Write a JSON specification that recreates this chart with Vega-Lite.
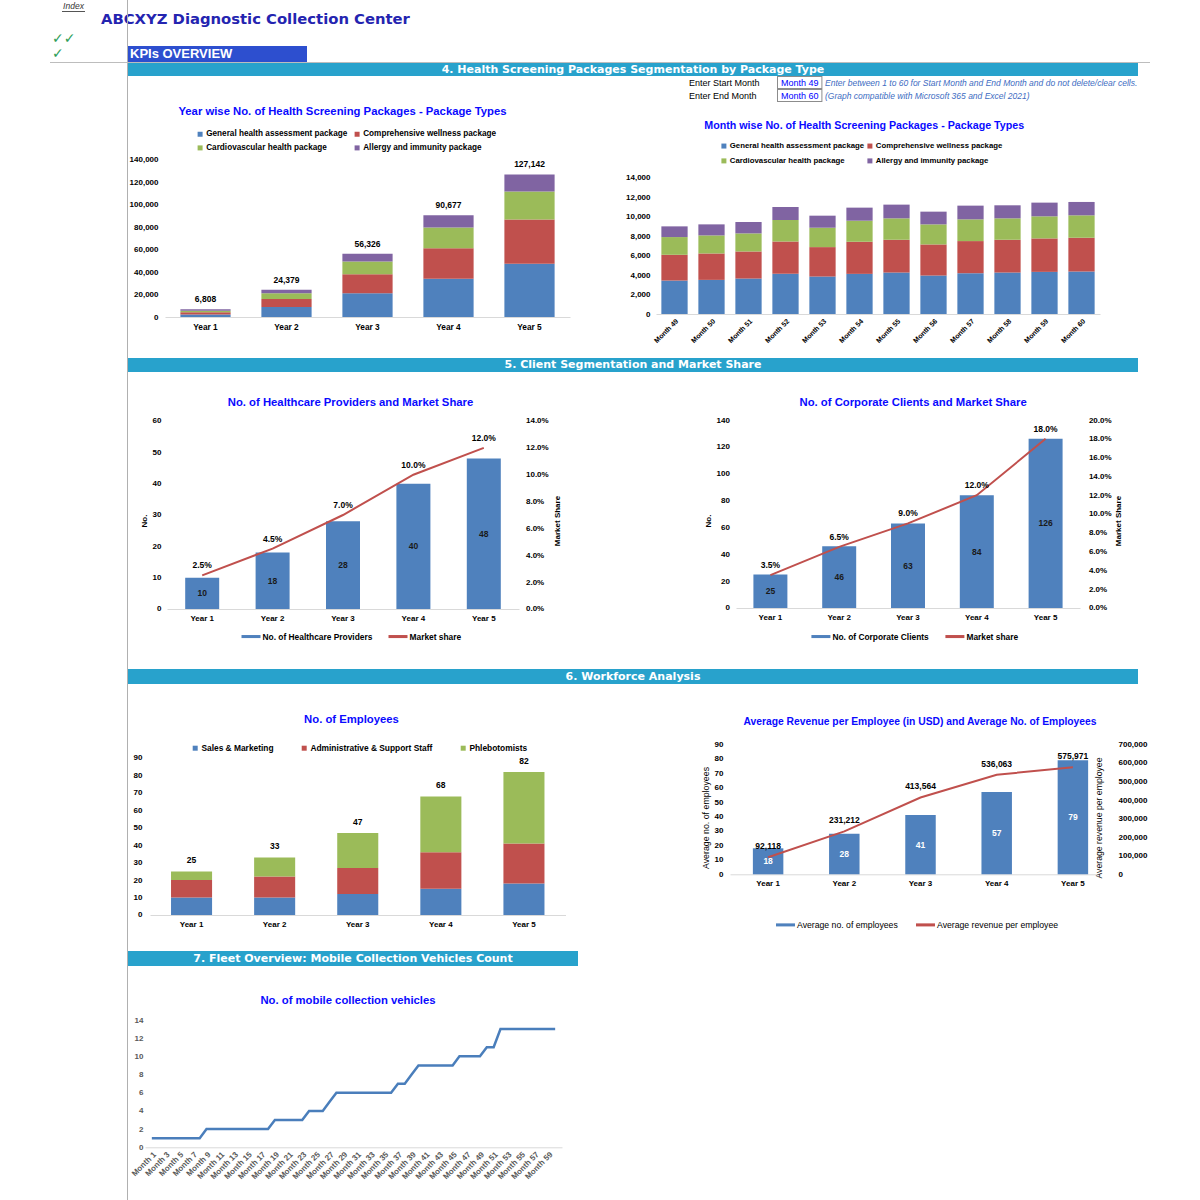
{
"$schema":"https://vega.github.io/schema/vega-lite/v6.json",
"padding":0,
"background":"white",
"config":{
 "font":"Liberation Sans",
 "view":{"stroke":null},
 "axis":{"grid":false,"ticks":false,"labelOverlap":false,"labelFontSize":8,"labelFontWeight":"bold","labelColor":"#000000","domainColor":"#d9d9d9","titleFontSize":8,"titleFontWeight":"bold","titleColor":"#000000","labelFont":"Liberation Sans","titleFont":"Liberation Sans"},
 "legend":{"labelFont":"Liberation Sans","labelFontWeight":"bold","labelFontSize":8.4,"labelColor":"#000000","labelLimit":400,"symbolType":"square","symbolSize":25,"symbolStrokeWidth":0,"labelOffset":2,"symbolOpacity":1}
},
"spacing":0,
"resolve":{"scale":{"color":"independent"},"legend":{"color":"independent"}},
"vconcat":[
 {"spacing":0,"bounds":"flush","hconcat":[
  {"width":61,"height":11,"data":{"values":[]},"mark":"point"},
  {"width":25,"height":11,"data":{"values":[{"t":"Index"}]},"mark":{"type":"text","fontSize":8.5,"fontStyle":"italic","color":"#333333"},"encoding":{"text":{"field":"t"}}},
  {"width":41,"height":11,"data":{"values":[]},"mark":"point"},
  {"width":1,"height":11,"view":{"fill":"#b0b0b0"},"data":{"values":[]},"mark":"point"}
 ]},
 {"spacing":0,"bounds":"flush","hconcat":[
  {"width":62,"height":1,"data":{"values":[]},"mark":"point"},
  {"width":23,"height":1,"view":{"fill":"#555555"},"data":{"values":[]},"mark":"point"},
  {"width":42,"height":1,"data":{"values":[]},"mark":"point"},
  {"width":1,"height":1,"view":{"fill":"#b0b0b0"},"data":{"values":[]},"mark":"point"}
 ]},
 {"spacing":0,"bounds":"flush","hconcat":[
  {"width":52,"height":34,"data":{"values":[]},"mark":"point"},
  {"width":49,"height":34,"data":{"values":[{"t":"✓✓"}]},"mark":{"type":"text","align":"left","dx":-24.5,"dy":10,"font":"DejaVu Sans","fontSize":14,"color":"#2f9e58"},"encoding":{"text":{"field":"t"}}},
  {"width":26,"height":34,"data":{"values":[{"t":"ABCXYZ Diagnostic Collection Center"}]},"mark":{"type":"text","align":"left","dx":-13,"dy":-9,"font":"DejaVu Sans","fontWeight":"bold","fontSize":14.8,"color":"#2424b0"},"encoding":{"text":{"field":"t"}}},
  {"width":1,"height":34,"view":{"fill":"#b0b0b0"},"data":{"values":[]},"mark":"point"}
 ]},
 {"spacing":0,"bounds":"flush","hconcat":[
  {"width":52,"height":16,"data":{"values":[]},"mark":"point"},
  {"width":49,"height":16,"data":{"values":[{"t":"✓"}]},"mark":{"type":"text","align":"left","dx":-24.5,"font":"DejaVu Sans","fontSize":14,"color":"#2f9e58"},"encoding":{"text":{"field":"t"}}},
  {"width":26,"height":16,"data":{"values":[]},"mark":"point"},
  {"width":1,"height":16,"view":{"fill":"#b0b0b0"},"data":{"values":[]},"mark":"point"},
  {"width":179,"height":16,"view":{"fill":"#2d4fcf"},"data":{"values":[{"t":"KPIs OVERVIEW"}]},"mark":{"type":"text","align":"left","dx":-87.5,"fontSize":13,"fontWeight":"bold","color":"#ffffff"},"encoding":{"text":{"field":"t"}}}
 ]},
 {"spacing":0,"bounds":"flush","hconcat":[
  {"width":50,"height":1,"data":{"values":[]},"mark":"point"},
  {"width":1100,"height":1,"view":{"fill":"#bdbdbd"},"data":{"values":[]},"mark":"point"}
 ]},
 {"spacing":0,"bounds":"flush","hconcat":[
  {"width":127,"height":13,"data":{"values":[]},"mark":"point"},
  {"width":1,"height":13,"view":{"fill":"#b0b0b0"},"data":{"values":[]},"mark":"point"},
  {"width":1010,"height":13,"view":{"fill":"#28a2cc"},"data":{"values":[{"t":"4. Health Screening Packages Segmentation by Package Type"}]},"mark":{"type":"text","font":"DejaVu Sans","fontWeight":"bold","fontSize":11,"color":"#ffffff"},"encoding":{"text":{"field":"t"}}}
 ]},
 {"spacing":0,"bounds":"flush","hconcat":[
  {"width":127,"height":13,"data":{"values":[]},"mark":"point"},
  {"width":1,"height":13,"view":{"fill":"#b0b0b0"},"data":{"values":[]},"mark":"point"},
  {"width":561,"height":13,"data":{"values":[]},"mark":"point"},
  {"width":88,"height":13,"data":{"values":[{"t":"Enter Start Month"}]},"mark":{"type":"text","align":"left","dx":-44,"fontSize":9,"color":"#000000"},"encoding":{"text":{"field":"t"}}},
  {"width":45.4,"height":13,"view":{"fill":"#8c8c8c"},"data":{"values":[{"t":"Month 49"}]},"layer":[
    {"mark":{"type":"rect","fill":"#ffffff","xOffset":1,"x2Offset":-1,"yOffset":1,"y2Offset":-1},"encoding":{"x":{"value":0},"x2":{"value":"width"},"y":{"value":0},"y2":{"value":"height"}}},
    {"mark":{"type":"text","fontSize":9,"color":"#0000ff"},"encoding":{"text":{"field":"t"}}}]},
  {"width":322,"height":13,"data":{"values":[{"t":"Enter between 1 to 60 for Start Month and End Month and do not delete/clear cells."}]},"mark":{"type":"text","align":"left","dx":-159,"fontSize":8.5,"fontStyle":"italic","color":"#3d6cc2"},"encoding":{"text":{"field":"t"}}}
 ]},
 {"spacing":0,"bounds":"flush","hconcat":[
  {"width":127,"height":13,"data":{"values":[]},"mark":"point"},
  {"width":1,"height":13,"view":{"fill":"#b0b0b0"},"data":{"values":[]},"mark":"point"},
  {"width":561,"height":13,"data":{"values":[]},"mark":"point"},
  {"width":88,"height":13,"data":{"values":[{"t":"Enter End Month"}]},"mark":{"type":"text","align":"left","dx":-44,"fontSize":9,"color":"#000000"},"encoding":{"text":{"field":"t"}}},
  {"width":45.4,"height":13,"view":{"fill":"#8c8c8c"},"data":{"values":[{"t":"Month 60"}]},"layer":[
    {"mark":{"type":"rect","fill":"#ffffff","xOffset":1,"x2Offset":-1,"yOffset":1,"y2Offset":-1},"encoding":{"x":{"value":0},"x2":{"value":"width"},"y":{"value":0},"y2":{"value":"height"}}},
    {"mark":{"type":"text","fontSize":9,"color":"#0000ff"},"encoding":{"text":{"field":"t"}}}]},
  {"width":322,"height":13,"data":{"values":[{"t":"(Graph compatible with Microsoft 365 and Excel 2021)"}]},"mark":{"type":"text","align":"left","dx":-159,"fontSize":8.5,"fontStyle":"italic","color":"#3d6cc2"},"encoding":{"text":{"field":"t"}}}
 ]},
 {"spacing":0,"bounds":"flush","resolve":{"scale":{"color":"independent"},"legend":{"color":"independent"}},"hconcat":[
  {"width":127,"height":256,"data":{"values":[]},"mark":"point"},
  {"width":1,"height":256,"view":{"fill":"#b0b0b0"},"data":{"values":[]},"mark":"point"},
  {"width":36.5,"height":256,"data":{"values":[]},"mark":"point"},
  {"width":405,"height":256,
   "layer":[
    {"data":{"values":[
      {"year":"Year 1","General health assessment package":2300,"Comprehensive wellness package":1900,"Cardiovascular health package":1300,"Allergy and immunity package":1308},
      {"year":"Year 2","General health assessment package":9000,"Comprehensive wellness package":7100,"Cardiovascular health package":5100,"Allergy and immunity package":3179},
      {"year":"Year 3","General health assessment package":21200,"Comprehensive wellness package":17000,"Cardiovascular health package":11350,"Allergy and immunity package":6776},
      {"year":"Year 4","General health assessment package":34000,"Comprehensive wellness package":27200,"Cardiovascular health package":18500,"Allergy and immunity package":10977},
      {"year":"Year 5","General health assessment package":47460,"Comprehensive wellness package":39410,"Cardiovascular health package":25070,"Allergy and immunity package":15202}
     ]},
     "transform":[{"fold":["General health assessment package","Comprehensive wellness package","Cardiovascular health package","Allergy and immunity package"],"as":["pkg","n"]}],
     "mark":{"type":"bar"},
     "encoding":{
      "x":{"field":"year","type":"nominal","title":null,"scale":{"paddingInner":0.38,"paddingOuter":0.19},"axis":{"labelAngle":0,"labelPadding":5,"labelFontSize":8.3,"offset":-41}},
      "y":{"field":"n","type":"quantitative","title":null,"stack":"zero","scale":{"domain":[-36560.5,191719.7],"nice":false,"zero":false},"axis":{"values":[0,20000,40000,60000,80000,100000,120000,140000],"format":",.0f","domain":false,"labelPadding":7,"labelOverlap":false}},
      "color":{"field":"pkg","type":"nominal","sort":["General health assessment package","Comprehensive wellness package","Cardiovascular health package","Allergy and immunity package"],"scale":{"range":["#4f81bd","#c0504d","#9bbb59","#8064a2"]},"legend":{"orient":"none","legendX":31,"legendY":27.8,"columns":2,"direction":"horizontal","title":null,"columnPadding":5,"rowPadding":5,"labelFontSize":8.2}},
      "order":{"field":"pkg","sort":"descending"}
     }},
    {"data":{"values":[{"year":"Year 1","total":6808},{"year":"Year 2","total":24379},{"year":"Year 3","total":56326},{"year":"Year 4","total":90677},{"year":"Year 5","total":127142}]},
     "mark":{"type":"text","dy":-10,"fontSize":8.5,"fontWeight":"bold","color":"#000000"},
     "encoding":{"x":{"field":"year","type":"nominal","title":null},"y":{"field":"total","type":"quantitative","title":null,"scale":{"domain":[-36560.5,191719.7],"nice":false,"zero":false},"axis":{"values":[0,20000,40000,60000,80000,100000,120000,140000],"format":",.0f","domain":false,"labelPadding":7,"labelOverlap":false}},"text":{"field":"total","type":"quantitative","format":",.0f"}}},
    {"data":{"values":[{"t":"Year wise No. of Health Screening Packages - Package Types"}]},
     "mark":{"type":"text","dx":-25,"dy":-118,"fontSize":11.3,"fontWeight":"bold","color":"#0a0aff"},"encoding":{"text":{"field":"t"}}}
   ]},
  {"width":86,"height":256,"data":{"values":[]},"mark":"point"},
  {"width":444,"height":256,
   "layer":[
    {"data":{"values":[
     {"m":"Month 49","General health assessment package":3443,"Comprehensive wellness package":2651,"Cardiovascular health package":1825,"Allergy and immunity package":1102},
     {"m":"Month 50","General health assessment package":3512,"Comprehensive wellness package":2720,"Cardiovascular health package":1859,"Allergy and immunity package":1136},
     {"m":"Month 51","General health assessment package":3650,"Comprehensive wellness package":2788,"Cardiovascular health package":1860,"Allergy and immunity package":1170},
     {"m":"Month 52","General health assessment package":4132,"Comprehensive wellness package":3339,"Cardiovascular health package":2204,"Allergy and immunity package":1343},
     {"m":"Month 53","General health assessment package":3856,"Comprehensive wellness package":3030,"Cardiovascular health package":1997,"Allergy and immunity package":1239},
     {"m":"Month 54","General health assessment package":4132,"Comprehensive wellness package":3305,"Cardiovascular health package":2169,"Allergy and immunity package":1343},
     {"m":"Month 55","General health assessment package":4269,"Comprehensive wellness package":3374,"Cardiovascular health package":2204,"Allergy and immunity package":1412},
     {"m":"Month 56","General health assessment package":3959,"Comprehensive wellness package":3202,"Cardiovascular health package":2066,"Allergy and immunity package":1309},
     {"m":"Month 57","General health assessment package":4200,"Comprehensive wellness package":3306,"Cardiovascular health package":2238,"Allergy and immunity package":1411},
     {"m":"Month 58","General health assessment package":4269,"Comprehensive wellness package":3374,"Cardiovascular health package":2204,"Allergy and immunity package":1343},
     {"m":"Month 59","General health assessment package":4338,"Comprehensive wellness package":3443,"Cardiovascular health package":2273,"Allergy and immunity package":1411},
     {"m":"Month 60","General health assessment package":4373,"Comprehensive wellness package":3477,"Cardiovascular health package":2307,"Allergy and immunity package":1377}
     ]},
     "transform":[{"fold":["General health assessment package","Comprehensive wellness package","Cardiovascular health package","Allergy and immunity package"],"as":["pkg","n"]}],
     "mark":{"type":"bar"},
     "encoding":{
      "x":{"field":"m","type":"nominal","title":null,"scale":{"paddingInner":0.29,"paddingOuter":0.145},"axis":{"labelAngle":-45,"labelPadding":3,"labelFontSize":7,"offset":-44}},
      "y":{"field":"n","type":"quantitative","title":null,"stack":"zero","scale":{"domain":[-4529.4,21823.5],"nice":false,"zero":false},"axis":{"values":[0,2000,4000,6000,8000,10000,12000,14000],"format":",.0f","domain":false,"labelPadding":6}},
      "color":{"field":"pkg","type":"nominal","sort":["General health assessment package","Comprehensive wellness package","Cardiovascular health package","Allergy and immunity package"],"scale":{"range":["#4f81bd","#c0504d","#9bbb59","#8064a2"]},"legend":{"orient":"none","legendX":64,"legendY":40,"columns":2,"direction":"horizontal","title":null,"columnPadding":1,"rowPadding":6,"labelFontSize":7.8}},
      "order":{"field":"pkg","sort":"descending"}
     }},
    {"data":{"values":[{"t":"Month wise No. of Health Screening Packages - Package Types"}]},
     "mark":{"type":"text","dx":-13.8,"dy":-104,"fontSize":10.7,"fontWeight":"bold","color":"#0a0aff"},"encoding":{"text":{"field":"t"}}}
   ]}
 ]},
 {"spacing":0,"bounds":"flush","hconcat":[
  {"width":127,"height":14,"data":{"values":[]},"mark":"point"},
  {"width":1,"height":14,"view":{"fill":"#b0b0b0"},"data":{"values":[]},"mark":"point"},
  {"width":1010,"height":14,"view":{"fill":"#28a2cc"},"data":{"values":[{"t":"5. Client Segmentation and Market Share"}]},"mark":{"type":"text","font":"DejaVu Sans","fontWeight":"bold","fontSize":11,"color":"#ffffff"},"encoding":{"text":{"field":"t"}}}
 ]},
 {"spacing":0,"bounds":"flush","resolve":{"scale":{"color":"independent"},"legend":{"color":"independent"}},"hconcat":[
  {"width":127,"height":297,"data":{"values":[]},"mark":"point"},
  {"width":1,"height":297,"view":{"fill":"#b0b0b0"},"data":{"values":[]},"mark":"point"},
  {"width":38.5,"height":297,"data":{"values":[]},"mark":"point"},
  {"width":352,"height":297,
   "data":{"values":[
    {"year":"Year 1","providers":10,"share":0.025},
    {"year":"Year 2","providers":18,"share":0.045},
    {"year":"Year 3","providers":28,"share":0.07},
    {"year":"Year 4","providers":40,"share":0.10},
    {"year":"Year 5","providers":48,"share":0.12}
   ]},
   "layer":[
    {"mark":{"type":"bar"},"encoding":{
      "x":{"field":"year","type":"nominal","title":null,"scale":{"paddingInner":0.517,"paddingOuter":0.2585},"axis":{"labelAngle":0,"labelPadding":5,"offset":-60}},
      "y":{"field":"providers","type":"quantitative","scale":{"domain":[-19.149,75.638],"nice":false,"zero":false},"axis":{"title":"No.","values":[0,10,20,30,40,50,60],"domain":false,"labelPadding":6,"titlePadding":4}},
      "color":{"datum":"No. of Healthcare Providers","type":"nominal","scale":{"domain":["No. of Healthcare Providers","Market share"],"range":["#4f81bd","#c0504d"]},"legend":{"orient":"none","legendX":74.5,"legendY":255,"direction":"horizontal","title":null,"symbolType":"M-1,-0.16H1V0.16H-1Z","symbolSize":361,"columnPadding":16}}}},
    {"mark":{"type":"text","fontSize":8.5,"fontWeight":"bold","color":"#1a1a1a"},"encoding":{
      "x":{"field":"year","type":"nominal"},
      "y":{"field":"providers","type":"quantitative","scale":{"domain":[-38.298,151.277],"nice":false,"zero":false},"axis":null},
      "text":{"field":"providers","type":"quantitative"}}},
    {"mark":{"type":"line","strokeWidth":2},"encoding":{
      "x":{"field":"year","type":"nominal"},
      "y":{"field":"share","type":"quantitative","scale":{"domain":[-0.044681,0.176489],"nice":false,"zero":false},"axis":{"orient":"right","title":"Market Share","format":".1%","values":[0,0.02,0.04,0.06,0.08,0.1,0.12,0.14],"domain":false,"labelPadding":6.5,"titlePadding":13,"titleAngle":270}},
      "color":{"datum":"Market share","type":"nominal"}}},
    {"mark":{"type":"text","dy":-10,"fontSize":8.5,"fontWeight":"bold","color":"#000000"},"encoding":{
      "x":{"field":"year","type":"nominal"},
      "y":{"field":"share","type":"quantitative","scale":{"domain":[-0.044681,0.176489],"nice":false,"zero":false},"axis":null},
      "text":{"field":"share","type":"quantitative","format":".1%"}}},
    {"data":{"values":[{"t":"No. of Healthcare Providers and Market Share"}]},
     "mark":{"type":"text","dx":7.5,"dy":-117.5,"fontSize":11.3,"fontWeight":"bold","color":"#0a0aff"},"encoding":{"text":{"field":"t"}}}
   ],
   "resolve":{"scale":{"y":"independent"}}},
  {"width":216.1,"height":297,"data":{"values":[]},"mark":"point"},
  {"width":344,"height":297,
   "data":{"values":[
    {"year":"Year 1","clients":25,"share":0.035},
    {"year":"Year 2","clients":46,"share":0.065},
    {"year":"Year 3","clients":63,"share":0.09},
    {"year":"Year 4","clients":84,"share":0.12},
    {"year":"Year 5","clients":126,"share":0.18}
   ]},
   "layer":[
    {"mark":{"type":"bar"},"encoding":{
      "x":{"field":"year","type":"nominal","title":null,"scale":{"paddingInner":0.506,"paddingOuter":0.253},"axis":{"labelAngle":0,"labelPadding":5,"offset":-61}},
      "y":{"field":"clients","type":"quantitative","scale":{"domain":[-45.426,175.745],"nice":false,"zero":false},"axis":{"title":"No.","values":[0,20,40,60,80,100,120,140],"domain":false,"labelPadding":6.6,"titlePadding":4}},
      "color":{"datum":"No. of Corporate Clients","type":"nominal","scale":{"domain":["No. of Corporate Clients","Market share"],"range":["#4f81bd","#c0504d"]},"legend":{"orient":"none","legendX":75.4,"legendY":255,"direction":"horizontal","title":null,"symbolType":"M-1,-0.16H1V0.16H-1Z","symbolSize":361,"columnPadding":16}}}},
    {"mark":{"type":"text","fontSize":8.5,"fontWeight":"bold","color":"#1a1a1a"},"encoding":{
      "x":{"field":"year","type":"nominal"},
      "y":{"field":"clients","type":"quantitative","scale":{"domain":[-90.851,351.489],"nice":false,"zero":false},"axis":null},
      "text":{"field":"clients","type":"quantitative"}}},
    {"mark":{"type":"line","strokeWidth":2},"encoding":{
      "x":{"field":"year","type":"nominal"},
      "y":{"field":"share","type":"quantitative","scale":{"domain":[-0.064894,0.251064],"nice":false,"zero":false},"axis":{"orient":"right","title":"Market Share","format":".1%","values":[0,0.02,0.04,0.06,0.08,0.1,0.12,0.14,0.16,0.18,0.2],"domain":false,"labelPadding":8.4,"titlePadding":11,"titleAngle":270}},
      "color":{"datum":"Market share","type":"nominal"}}},
    {"mark":{"type":"text","dy":-10,"fontSize":8.5,"fontWeight":"bold","color":"#000000"},"encoding":{
      "x":{"field":"year","type":"nominal"},
      "y":{"field":"share","type":"quantitative","scale":{"domain":[-0.064894,0.251064],"nice":false,"zero":false},"axis":null},
      "text":{"field":"share","type":"quantitative","format":".1%"}}},
    {"data":{"values":[{"t":"No. of Corporate Clients and Market Share"}]},
     "mark":{"type":"text","dx":5.1,"dy":-117.5,"fontSize":11.3,"fontWeight":"bold","color":"#0a0aff"},"encoding":{"text":{"field":"t"}}}
   ],
   "resolve":{"scale":{"y":"independent"}}}
 ]},
 {"spacing":0,"bounds":"flush","hconcat":[
  {"width":127,"height":15,"data":{"values":[]},"mark":"point"},
  {"width":1,"height":15,"view":{"fill":"#b0b0b0"},"data":{"values":[]},"mark":"point"},
  {"width":1010,"height":15,"view":{"fill":"#28a2cc"},"data":{"values":[{"t":"6. Workforce Analysis"}]},"mark":{"type":"text","font":"DejaVu Sans","fontWeight":"bold","fontSize":11,"color":"#ffffff"},"encoding":{"text":{"field":"t"}}}
 ]},
 {"spacing":0,"bounds":"flush","resolve":{"scale":{"color":"independent"},"legend":{"color":"independent"}},"hconcat":[
  {"width":127,"height":267,"data":{"values":[]},"mark":"point"},
  {"width":1,"height":267,"view":{"fill":"#b0b0b0"},"data":{"values":[]},"mark":"point"},
  {"width":21.5,"height":267,"data":{"values":[]},"mark":"point"},
  {"width":415.5,"height":267,
   "layer":[
    {"data":{"values":[
      {"year":"Year 1","role":"Sales & Marketing","n":10,"ord":1},
      {"year":"Year 1","role":"Administrative & Support Staff","n":10,"ord":2},
      {"year":"Year 1","role":"Phlebotomists","n":5,"ord":3},
      {"year":"Year 2","role":"Sales & Marketing","n":10,"ord":1},
      {"year":"Year 2","role":"Administrative & Support Staff","n":12,"ord":2},
      {"year":"Year 2","role":"Phlebotomists","n":11,"ord":3},
      {"year":"Year 3","role":"Sales & Marketing","n":12,"ord":1},
      {"year":"Year 3","role":"Administrative & Support Staff","n":15,"ord":2},
      {"year":"Year 3","role":"Phlebotomists","n":20,"ord":3},
      {"year":"Year 4","role":"Sales & Marketing","n":15,"ord":1},
      {"year":"Year 4","role":"Administrative & Support Staff","n":21,"ord":2},
      {"year":"Year 4","role":"Phlebotomists","n":32,"ord":3},
      {"year":"Year 5","role":"Sales & Marketing","n":18,"ord":1},
      {"year":"Year 5","role":"Administrative & Support Staff","n":23,"ord":2},
      {"year":"Year 5","role":"Phlebotomists","n":41,"ord":3}
     ]},
     "mark":{"type":"bar"},
     "encoding":{
      "x":{"field":"year","type":"nominal","title":null,"scale":{"paddingInner":0.506,"paddingOuter":0.253},"axis":{"labelAngle":0,"labelPadding":5,"offset":-36}},
      "y":{"field":"n","type":"quantitative","title":null,"stack":"zero","scale":{"domain":[-20.637,132.42],"nice":false,"zero":false},"axis":{"values":[0,10,20,30,40,50,60,70,80,90],"domain":false,"labelPadding":8,"labelOverlap":false}},
      "color":{"field":"role","type":"nominal","sort":["Sales & Marketing","Administrative & Support Staff","Phlebotomists"],"scale":{"range":["#4f81bd","#c0504d","#9bbb59"]},"legend":{"orient":"none","legendX":41,"legendY":59.8,"columns":3,"direction":"horizontal","title":null,"columnPadding":26}},
      "order":{"field":"ord","type":"quantitative"}
     }},
    {"data":{"values":[{"year":"Year 1","total":25},{"year":"Year 2","total":33},{"year":"Year 3","total":47},{"year":"Year 4","total":68},{"year":"Year 5","total":82}]},
     "mark":{"type":"text","dy":-11,"fontSize":8.5,"fontWeight":"bold","color":"#000000"},
     "encoding":{"x":{"field":"year","type":"nominal","title":null},"y":{"field":"total","type":"quantitative","title":null,"scale":{"domain":[-20.637,132.42],"nice":false,"zero":false},"axis":{"values":[0,10,20,30,40,50,60,70,80,90],"domain":false,"labelPadding":8,"labelOverlap":false}},"text":{"field":"total","type":"quantitative"}}},
    {"data":{"values":[{"t":"No. of Employees"}]},
     "mark":{"type":"text","dx":-6.25,"dy":-97.5,"fontSize":11.3,"fontWeight":"bold","color":"#0a0aff"},"encoding":{"text":{"field":"t"}}}
   ]},
  {"width":164,"height":267,"data":{"values":[]},"mark":"point"},
  {"width":371,"height":267,
   "data":{"values":[
    {"year":"Year 1","employees":18,"revenue":92118},
    {"year":"Year 2","employees":28,"revenue":231212},
    {"year":"Year 3","employees":41,"revenue":413564},
    {"year":"Year 4","employees":57,"revenue":536063},
    {"year":"Year 5","employees":79,"revenue":575971}
   ]},
   "layer":[
    {"mark":{"type":"bar"},"encoding":{
      "x":{"field":"year","type":"nominal","title":null,"scale":{"paddingInner":0.6,"paddingOuter":0.2345,"align":0.64},"axis":{"labelAngle":0,"labelPadding":5,"offset":-76.7}},
      "y":{"field":"employees","type":"quantitative","scale":{"domain":[-53.1,131.746],"nice":false,"zero":false},"axis":{"title":"Average no. of employees","titleFontWeight":"normal","titleFontSize":8.8,"values":[0,10,20,30,40,50,60,70,80,90],"domain":false,"labelPadding":7,"titlePadding":4}},
      "color":{"datum":"Average no. of employees","type":"nominal","scale":{"domain":["Average no. of employees","Average revenue per employee"],"range":["#4f81bd","#c0504d"]},"legend":{"orient":"none","legendX":46,"legendY":231,"direction":"horizontal","title":null,"symbolType":"M-1,-0.16H1V0.16H-1Z","symbolSize":361,"columnPadding":18,"labelFontWeight":"normal","labelFontSize":8.7}}}},
    {"mark":{"type":"text","fontSize":8.5,"fontWeight":"bold","color":"#ffffff"},"encoding":{
      "x":{"field":"year","type":"nominal"},
      "y":{"field":"employees","type":"quantitative","scale":{"domain":[-106.2,263.492],"nice":false,"zero":false},"axis":null},
      "text":{"field":"employees","type":"quantitative"}}},
    {"mark":{"type":"line","strokeWidth":2},"encoding":{
      "x":{"field":"year","type":"nominal"},
      "y":{"field":"revenue","type":"quantitative","scale":{"domain":[-413000,1024692],"nice":false,"zero":false},"axis":{"orient":"right","title":"Average revenue per employee","titleFontWeight":"normal","titleFontSize":8.7,"format":",.0f","values":[0,100000,200000,300000,400000,500000,600000,700000],"domain":false,"labelPadding":17,"titlePadding":-43,"titleAngle":270}},
      "color":{"datum":"Average revenue per employee","type":"nominal"}}},
    {"mark":{"type":"text","dy":-11,"fontSize":8.5,"fontWeight":"bold","color":"#000000"},"encoding":{
      "x":{"field":"year","type":"nominal"},
      "y":{"field":"revenue","type":"quantitative","scale":{"domain":[-413000,1024692],"nice":false,"zero":false},"axis":null},
      "text":{"field":"revenue","type":"quantitative","format":",.0f"}}},
    {"data":{"values":[{"t":"Average Revenue per Employee (in USD) and Average No. of Employees"}]},
     "mark":{"type":"text","dx":4.5,"dy":-95.5,"fontSize":10.3,"fontWeight":"bold","color":"#0a0aff"},"encoding":{"text":{"field":"t"}}}
   ],
   "resolve":{"scale":{"y":"independent"}}}
 ]},
 {"spacing":0,"bounds":"flush","hconcat":[
  {"width":127,"height":15,"data":{"values":[]},"mark":"point"},
  {"width":1,"height":15,"view":{"fill":"#b0b0b0"},"data":{"values":[]},"mark":"point"},
  {"width":450,"height":15,"view":{"fill":"#28a2cc"},"data":{"values":[{"t":"7. Fleet Overview: Mobile Collection Vehicles Count"}]},"mark":{"type":"text","font":"DejaVu Sans","fontWeight":"bold","fontSize":11,"color":"#ffffff"},"encoding":{"text":{"field":"t"}}}
 ]},
 {"spacing":0,"bounds":"flush","hconcat":[
  {"width":127,"height":234,"data":{"values":[]},"mark":"point"},
  {"width":1,"height":234,"view":{"fill":"#b0b0b0"},"data":{"values":[]},"mark":"point"},
  {"width":17,"height":234,"data":{"values":[]},"mark":"point"},
  {"width":417,"height":234,
   "layer":[
    {"data":{"values":[
      {"m":"Month 1","v":1},{"m":"Month 2","v":1},{"m":"Month 3","v":1},{"m":"Month 4","v":1},{"m":"Month 5","v":1},{"m":"Month 6","v":1},{"m":"Month 7","v":1},{"m":"Month 8","v":1},
      {"m":"Month 9","v":2},{"m":"Month 10","v":2},{"m":"Month 11","v":2},{"m":"Month 12","v":2},{"m":"Month 13","v":2},{"m":"Month 14","v":2},{"m":"Month 15","v":2},{"m":"Month 16","v":2},{"m":"Month 17","v":2},{"m":"Month 18","v":2},
      {"m":"Month 19","v":3},{"m":"Month 20","v":3},{"m":"Month 21","v":3},{"m":"Month 22","v":3},{"m":"Month 23","v":3},
      {"m":"Month 24","v":4},{"m":"Month 25","v":4},{"m":"Month 26","v":4},
      {"m":"Month 27","v":5},
      {"m":"Month 28","v":6},{"m":"Month 29","v":6},{"m":"Month 30","v":6},{"m":"Month 31","v":6},{"m":"Month 32","v":6},{"m":"Month 33","v":6},{"m":"Month 34","v":6},{"m":"Month 35","v":6},{"m":"Month 36","v":6},
      {"m":"Month 37","v":7},{"m":"Month 38","v":7},
      {"m":"Month 39","v":8},
      {"m":"Month 40","v":9},{"m":"Month 41","v":9},{"m":"Month 42","v":9},{"m":"Month 43","v":9},{"m":"Month 44","v":9},{"m":"Month 45","v":9},
      {"m":"Month 46","v":10},{"m":"Month 47","v":10},{"m":"Month 48","v":10},{"m":"Month 49","v":10},
      {"m":"Month 50","v":11},{"m":"Month 51","v":11},
      {"m":"Month 52","v":13},{"m":"Month 53","v":13},{"m":"Month 54","v":13},{"m":"Month 55","v":13},{"m":"Month 56","v":13},{"m":"Month 57","v":13},{"m":"Month 58","v":13},{"m":"Month 59","v":13},{"m":"Month 60","v":13}
     ]},
     "mark":{"type":"line","color":"#4a7ebb","strokeWidth":2.5},
     "encoding":{
      "x":{"field":"m","type":"ordinal","sort":null,"title":null,"scale":{"type":"point","padding":1.055},"axis":{"values":["Month 1","Month 3","Month 5","Month 7","Month 9","Month 11","Month 13","Month 15","Month 17","Month 19","Month 21","Month 23","Month 25","Month 27","Month 29","Month 31","Month 33","Month 35","Month 37","Month 39","Month 41","Month 43","Month 45","Month 47","Month 49","Month 51","Month 53","Month 55","Month 57","Month 59"],"labelAngle":-45,"labelPadding":3,"labelColor":"#595959","offset":-52.7}},
      "y":{"field":"v","type":"quantitative","title":null,"scale":{"domain":[-5.796,19.939],"nice":false,"zero":false},"axis":{"values":[0,2,4,6,8,10,12,14],"domain":false,"labelPadding":2,"labelColor":"#595959"}}
     }},
    {"data":{"values":[{"t":"No. of mobile collection vehicles"}]},
     "mark":{"type":"text","dx":-5.5,"dy":-82,"fontSize":11.3,"fontWeight":"bold","color":"#0a0aff"},"encoding":{"text":{"field":"t"}}}
   ]}
 ]}
]
}
